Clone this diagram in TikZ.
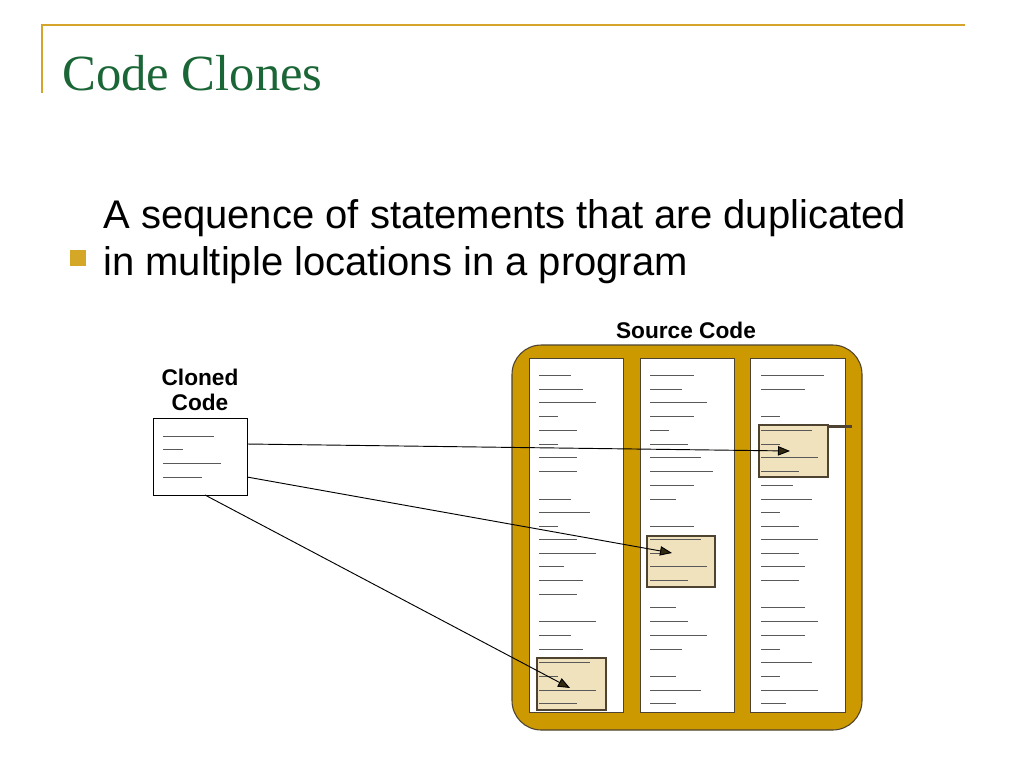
\documentclass[tikz,border=0pt]{standalone}
\usepackage{fontspec}
\setmainfont{Liberation Sans}
\newfontfamily\titlefont{Liberation Serif}
\usetikzlibrary{arrows.meta}
\definecolor{gold}{HTML}{CC9900}
\definecolor{rule}{HTML}{D4A52A}
\definecolor{titlegreen}{HTML}{1B6636}
\definecolor{hl}{HTML}{F1E2BE}
\definecolor{hlborder}{HTML}{4D4330}
\definecolor{arr}{HTML}{33290F}
\tikzset{
  codeline/.style={gray!70!black, line width=0.5pt},
  column/.style={fill=white, draw=hlborder, line width=0.6pt},
  hlbox/.style={fill=hl, draw=hlborder, line width=0.9pt, inner sep=0pt},
  link/.style={draw=black, line width=0.7pt, -{Triangle[length=9pt,width=7pt,fill=arr]}},
  lbl/.style={font=\fontsize{17}{19}\selectfont\bfseries, align=center}
}
\begin{document}
\begin{tikzpicture}[x=0.75pt,y=-0.75pt]
\useasboundingbox (0,0) rectangle (1024,768);
% title frame
\draw[rule, line width=1.5pt] (965,25) -- (42,25) -- (42,93);
\node[anchor=base west, inner sep=0pt, text=titlegreen, font=\titlefont\fontsize{38}{40}\selectfont] (title) at (62,90) {Code Clones};
% bullet
\fill[gold!85!white] (70,250) rectangle (86,266);
\node[anchor=base west, inner sep=0pt, font=\fontsize{30}{36}\selectfont, align=left] (bul) at (103,228) {A sequence of statements that are duplicated};
\node[anchor=base west, inner sep=0pt, font=\fontsize{30}{36}\selectfont, align=left] (bul2) at (103,275) {in multiple locations in a program};
% source box
\draw[fill=gold, draw=hlborder, line width=0.8pt, rounded corners=22pt] (512,345) rectangle (862,730);
\node[lbl] (src) at (686,330) {Source Code};
\draw[column] (529,358) rectangle (623,712);
\draw[column] (640,358) rectangle (734,712);
\draw[column] (750,358) rectangle (845,712);
% highlight boxes
\node[hlbox, minimum width=69pt*0.75/0.75, anchor=north west] (h3) at (759,425) {};
\draw[hlbox] (759,425) rectangle (828,477);
\draw[hlbox] (647,536) rectangle (715,587);
\draw[hlbox] (537,658) rectangle (606,710);
\coordinate (t3) at (790,451);
\coordinate (t2) at (672,553);
\coordinate (t1) at (570,688);
% code lines (zoom coordinates)
\begin{scope}[shift={(500,340)},scale=1/3]
\foreach \y/\e in {105/213,148/250,188/288,230/175,270/232,312/175,353/232,393/232,477/213,518/270,558/175,598/232,640/288,680/193,720/250,762/232,845/288,885/213,927/250,968/270,1008/175,1050/288,1090/232}
  \draw[codeline] (117,\y) -- (\e,\y);
\foreach \y/\e in {105/583,148/545,188/620,230/583,270/507,312/563,353/603,393/640,435/583,477/527,558/583,598/603,640/490,680/620,720/563,803/527,845/563,885/620,927/545,1008/527,1050/603,1090/527}
  \draw[codeline] (450,\y) -- (\e,\y);
\foreach \y/\e in {105/973,148/915,230/840,270/935,312/840,353/955,393/897,435/878,477/935,518/840,558/897,598/955,640/897,680/915,720/897,803/915,845/955,885/915,927/840,968/935,1008/840,1050/955,1090/858}
  \draw[codeline] (783,\y) -- (\e,\y);
\end{scope}
% cloned code
\node[lbl] (cl) at (200,390) {Cloned\\Code};
\draw[fill=white, draw=black, line width=0.6pt] (153,418) rectangle (247,495);
\node[inner sep=0pt, minimum width=70.5pt, minimum height=57.75pt] (cc) at (200,456.5) {};
\foreach \y/\e in {436/214,449/183,463/221,477/202}
  \draw[codeline] (163,\y) -- (\e,\y);
% links
\coordinate (s1) at (247,444);
\coordinate (s2) at (247,477);
\coordinate (s3) at (205,495);
\draw[link] (s1) -- (t3);
\draw[link] (s2) -- (t2);
\draw[link] (s3) -- (t1);
\end{tikzpicture}
\end{document}
